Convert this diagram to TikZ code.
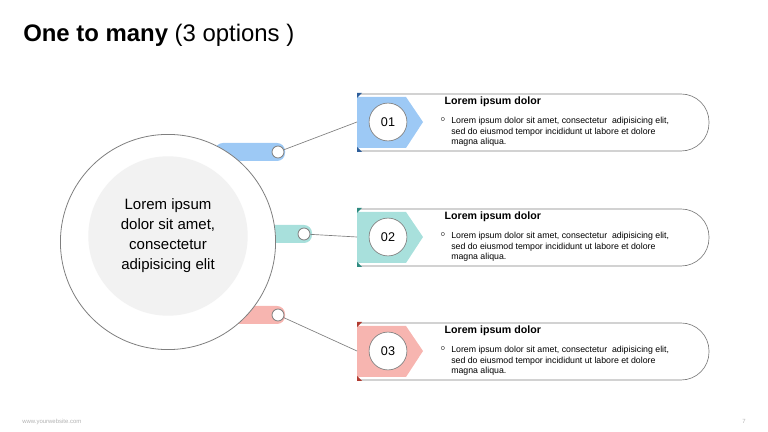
\documentclass[tikz,border=0pt]{standalone}
\usepackage{fontspec}
\setmainfont{Liberation Sans}
\usepackage{xcolor}
\definecolor{tabblue}{HTML}{9DC9F5}
\definecolor{tabteal}{HTML}{A8E0DC}
\definecolor{tabpink}{HTML}{F7B5B0}
\definecolor{darkblue}{HTML}{2E5E9A}
\definecolor{darkteal}{HTML}{2E8A80}
\definecolor{darkpink}{HTML}{B03A30}
\definecolor{rimgray}{HTML}{7F7F7F}
\definecolor{coregray}{HTML}{F2F2F2}

\tikzset{
  numcircle/.style={circle, draw=rimgray, fill=white, line width=0.5pt, minimum size=28.5pt, inner sep=0pt, font=\fontsize{9.5}{10}\selectfont},
  pindot/.style={circle, draw=rimgray, fill=white, line width=0.6pt, minimum size=9pt, inner sep=0pt},
  head/.style={anchor=base west, font=\bfseries\fontsize{8}{9}\selectfont},
  body/.style={anchor=north west, align=left, inner sep=0pt, font=\fontsize{6.6}{8}\selectfont},
  link/.style={draw=rimgray, line width=0.5pt}
}

\begin{document}
\begin{tikzpicture}[x=0.02646cm, y=-0.02646cm]
\useasboundingbox (0,0) rectangle (768,432);

%% title and footer
\node[anchor=base west, inner sep=0pt, font=\fontsize{18}{20}\selectfont] (title) at (23,42) {\textbf{One to many} (3 options )};
\node[anchor=base west, inner sep=0pt, text=gray!60, font=\fontsize{4.5}{5}\selectfont] (web) at (22,424) {www.yourwebsite.com};
\node[anchor=base east, inner sep=0pt, text=gray!60, font=\fontsize{4.5}{5}\selectfont] (page) at (746,424) {7};

%% tabs behind the hub
\fill[tabblue, rounded corners=6pt] (215,143) rectangle (285,161);
\fill[tabteal, rounded corners=6pt] (250,225) rectangle (312,243);
\fill[tabpink, rounded corners=6pt] (215,306) rectangle (285,324);

%% hub
\node[circle, draw=rimgray, fill=white, line width=0.6pt, minimum size=162pt] (hub) at (168,242) {};
\node[circle, fill=coregray, minimum size=120pt, align=center, font=\fontsize{11.3}{15}\selectfont] (core) at (168,236) {Lorem ipsum\\dolor sit amet,\\consectetur\\adipisicing elit};

%% options
\foreach \i/\c/\col/\dk/\dy in {1/122/tabblue/darkblue/152, 2/237/tabteal/darkteal/234, 3/351/tabpink/darkpink/315}{
  \draw[rimgray, line width=0.5pt, rounded corners=21pt] (357,\c-28) -- (709,\c-28) -- (709,\c+29) -- (357,\c+29);
  \fill[\col] (357,\c-25) -- (406,\c-25) -- (423,\c) -- (406,\c+26) -- (357,\c+26) -- cycle;
  \fill[\dk] (357,\c-29) -- (362,\c-29) -- (357,\c-24) -- cycle;
  \fill[\dk] (357,\c+30) -- (362,\c+30) -- (357,\c+25) -- cycle;
  \node[numcircle] (num\i) at (388,\c) {0\i};
  \coordinate (pin\i) at (357,\c);
  \node[head] (head\i) at (440,\c-17) {Lorem ipsum dolor};
  \node[anchor=north, inner sep=0pt, font=\fontsize{6}{8}\selectfont] (bul\i) at (443,\c-5) {$\circ$};
  \node[body] (text\i) at (451,\c-5) {Lorem ipsum dolor sit amet, consectetur\ \ adipisicing elit,\\sed do eiusmod tempor incididunt ut labore et dolore\\magna aliqua.};
}

%% pins on the hub tabs
\node[pindot] (dot1) at (278,152) {};
\node[pindot] (dot2) at (304,234) {};
\node[pindot] (dot3) at (278,315) {};

\draw[link] (dot1) -- (pin1);
\draw[link] (dot2) -- (pin2);
\draw[link] (dot3) -- (pin3);

\end{tikzpicture}
\end{document}
